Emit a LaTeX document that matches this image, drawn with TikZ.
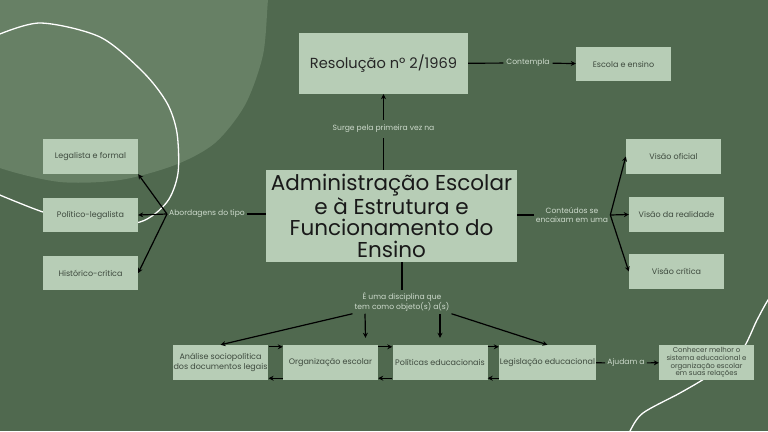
\documentclass[tikz,border=0pt]{standalone}
\usepackage{fontspec}
\setmainfont{Poppins}
\definecolor{bg}{RGB}{80,105,79}
\definecolor{blob}{RGB}{103,128,101}
\definecolor{cbox}{RGB}{183,205,182}
\definecolor{ctext}{RGB}{62,74,62}
\definecolor{clbl}{RGB}{205,218,204}
\usetikzlibrary{arrows.meta}

\begin{document}
\begin{tikzpicture}[x=1pt, y=-1pt,
  box/.style={rectangle, fill=cbox, text=ctext, font=\fontsize{8}{9.5}\selectfont, align=center, inner sep=1pt, minimum width=95pt, minimum height=35pt},
  lbl/.style={text=clbl, font=\fontsize{7.6}{9}\selectfont, align=center, inner sep=3pt},
  link/.style={line width=1.2pt, color=black},
  arr/.style={link, -{Stealth[length=5pt, width=5pt]}},
  swirl/.style={white, line width=1.3pt}]
\useasboundingbox (0,0) rectangle (768,431);
\fill [bg] (0,0) rectangle (768,431);
\fill [blob] plot [smooth cycle] coordinates {(-30,-30) (272,-30) (268,0) (263,55) (245,105) (215,143) (175,165) (120,180) (60,182) (0,168) (-30,150)};
\draw [swirl] plot [smooth] coordinates {(-5,36) (40,23) (100,37) (143,72) (167,103) (177,133) (178,173) (167,202) (140,222) (90,224) (43,212) (-5,193)};
\draw [swirl] plot [smooth] coordinates {(785,275) (768,300) (757,320) (740,353) (707,377) (680,393) (643,413) (630,431) (625,445)};
% boxes
\node (res) [box, minimum width=169pt, minimum height=61pt, text=black!85, font=\fontsize{14.6}{16}\selectfont] at (383.5, 63.5) {Resolução nº 2/1969};
\node (esc) [box, minimum height=34pt] at (623.5, 64) {Escola e ensino};
\node (main) [box, minimum width=251pt, minimum height=92pt, text=black!90, font=\fontsize{21.5}{21.5}\selectfont] at (391.5, 216) {Administração Escolar\\e à Estrutura e\\Funcionamento do\\Ensino};
\node (leg) [box] at (90.5, 156.5) {Legalista e formal};
\node (pol) [box, minimum height=34pt] at (90.5, 215) {Político-legalista};
\node (his) [box, minimum height=34pt] at (90.5, 273) {Histórico-crítica};
\node (vof) [box] at (673.5, 156.5) {Visão oficial};
\node (vre) [box] at (676.5, 214.5) {Visão da realidade};
\node (vcr) [box] at (676.5, 271.5) {Visão crítica};
\node (ana) [box] at (220.5, 362.5) {Análise sociopolítica\\dos documentos legais};
\node (org) [box] at (330.5, 362.5) {Organização escolar};
\node (pe) [box] at (440, 362.5) {Políticas educacionais};
\node (le) [box] at (547.5, 362.5) {Legislação educacional};
\node (con) [box, font=\fontsize{7}{7.8}\selectfont] at (706.5, 362.5) {Conhecer melhor o\\sistema educacional e\\organização escolar\\em suas relações};
% labels
\node (surge) [lbl, inner sep=5pt] at (383.5, 129) {Surge pela primeira vez na};
\node (contempla) [lbl] at (528, 63) {Contempla};
\node (abord) [lbl, inner sep=2pt] at (207, 214) {Abordagens do tipo};
\node (conteudos) [lbl, inner sep=2pt] at (572, 215) {Conteúdos se\\encaixam em uma};
\node (disc) [lbl, inner sep=2pt] at (402, 302) {É uma disciplina que\\tem como objeto(s) a(s)};
\node (ajudam) [lbl, inner sep=2pt] at (626, 363) {Ajudam a};
% connectors
\draw [link] (main.north -| res) to (surge);
\draw [arr] (surge) to (res);
\draw [link] (res) to (contempla);
\draw [arr] (contempla) to (esc);
\draw [link] (main.west |- abord) to (abord);
\draw [arr] (abord.west) to (leg.south east);
\draw [arr] (abord.west) to (pol.east);
\draw [arr] (abord.west) to (his.east);
\draw [link] (main.east |- conteudos) to (conteudos);
\draw [arr] (conteudos.east) to (vof.west);
\draw [arr] (conteudos.east) to (vre.west);
\draw [arr] (conteudos.east) to (vcr.west);
\draw [link] (main.south -| disc) to (disc);
\draw [arr] (disc.south west) to (ana.north);
\draw [arr] ([xshift=-37pt]disc.south) to ([xshift=35pt, yshift=7pt]org.north);
\draw [arr] ([xshift=38pt]disc.south) to ([yshift=7pt]pe.north);
\draw [arr] (disc.south east) to (le.north);
\foreach \a/\b in {ana/org, org/pe, pe/le} {
  \draw [arr] ([yshift=-2pt]\a.north east) to ([yshift=-2pt]\b.north west);
  \draw [arr] ([yshift=2pt]\b.south west) to ([yshift=2pt]\a.south east);
}
\draw [link] (le) to (ajudam);
\draw [arr] (ajudam) to (con);
\end{tikzpicture}
\end{document}
